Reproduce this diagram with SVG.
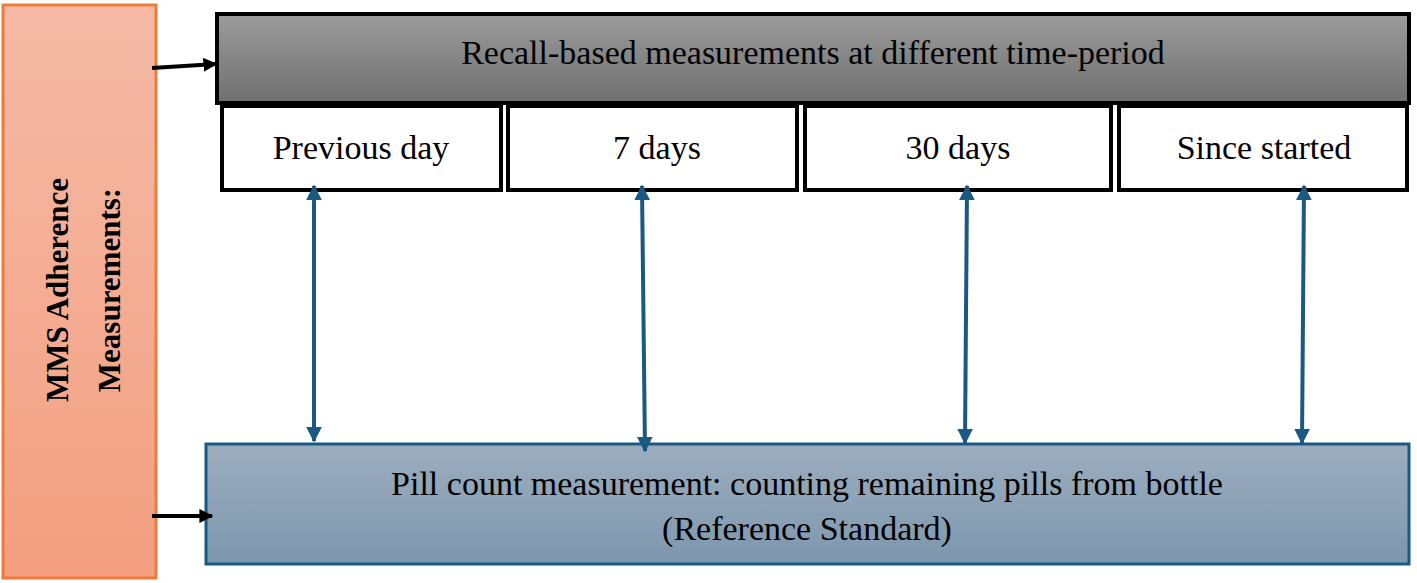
<svg xmlns="http://www.w3.org/2000/svg" width="1417" height="583" viewBox="0 0 1417 583">
<defs>
<linearGradient id="gg" x1="0" y1="0" x2="0" y2="1"><stop offset="0" stop-color="#9c9c9c"/><stop offset="1" stop-color="#6f6f6f"/></linearGradient>
<linearGradient id="bg" x1="0" y1="0" x2="0" y2="1"><stop offset="0" stop-color="#9dadbf"/><stop offset="1" stop-color="#7d97ae"/></linearGradient>
<linearGradient id="og" x1="0" y1="0" x2="0" y2="1"><stop offset="0" stop-color="#f5baa6"/><stop offset="1" stop-color="#f39f80"/></linearGradient>
<marker id="ab" viewBox="0 0 10 10" refX="9" refY="5" markerWidth="4" markerHeight="4" orient="auto-start-reverse"><path d="M0,0L10,5L0,10z" fill="#1a5a82"/></marker>
<marker id="ak" viewBox="0 0 10 10" refX="9" refY="5" markerWidth="3.5" markerHeight="3.5" orient="auto"><path d="M0,0L10,5L0,10z" fill="#000"/></marker>
</defs>
<style>
text{font-family:"Liberation Serif",serif;font-size:34px;fill:#000;text-anchor:middle}
.w{fill:#fff;stroke:#000;stroke-width:4}
.b{stroke:#1a5a82;stroke-width:4;fill:none;marker-start:url(#ab);marker-end:url(#ab)}
.k{stroke:#000;stroke-width:4;fill:none;marker-end:url(#ak)}
</style>
<g id="left"><rect x="3" y="5" width="153" height="573" fill="url(#og)" stroke="#ef7a3a" stroke-width="3"/>
<text transform="translate(80,290) rotate(-90)" style="font-weight:bold;font-size:31px"><tspan x="0" y="-12">MMS Adherence</tspan><tspan x="0" y="40">Measurements:</tspan></text></g>
<g id="recall"><rect x="217" y="14" width="1192" height="89" fill="url(#gg)" stroke="#000" stroke-width="4"/><text x="813" y="64">Recall-based measurements at different time-period</text></g>
<g id="prev"><rect class="w" x="222" y="106" width="279" height="84"/><text x="361" y="159">Previous day</text></g>
<g id="d7"><rect class="w" x="508" y="106" width="289" height="84"/><text x="657" y="159">7 days</text></g>
<g id="d30"><rect class="w" x="805" y="106" width="306" height="84"/><text x="958" y="159">30 days</text></g>
<g id="since"><rect class="w" x="1119" y="106" width="288" height="84"/><text x="1264" y="159">Since started</text></g>
<g id="pill"><rect x="206" y="444" width="1203" height="120" fill="url(#bg)" stroke="#1a5a82" stroke-width="3"/><text x="807" y="495">Pill count measurement: counting remaining pills from bottle</text><text x="807" y="540">(Reference Standard)</text></g>
<g id="connectors">
<line class="b" x1="314" y1="186" x2="314" y2="441"/>
<line class="b" x1="642" y1="186" x2="645" y2="451"/>
<line class="b" x1="967" y1="186" x2="965" y2="443"/>
<line class="b" x1="1304" y1="186" x2="1302" y2="443"/>
<line class="k" x1="152" y1="68" x2="216" y2="64"/>
<line class="k" x1="152" y1="516" x2="212" y2="516"/>
</g>
</svg>
